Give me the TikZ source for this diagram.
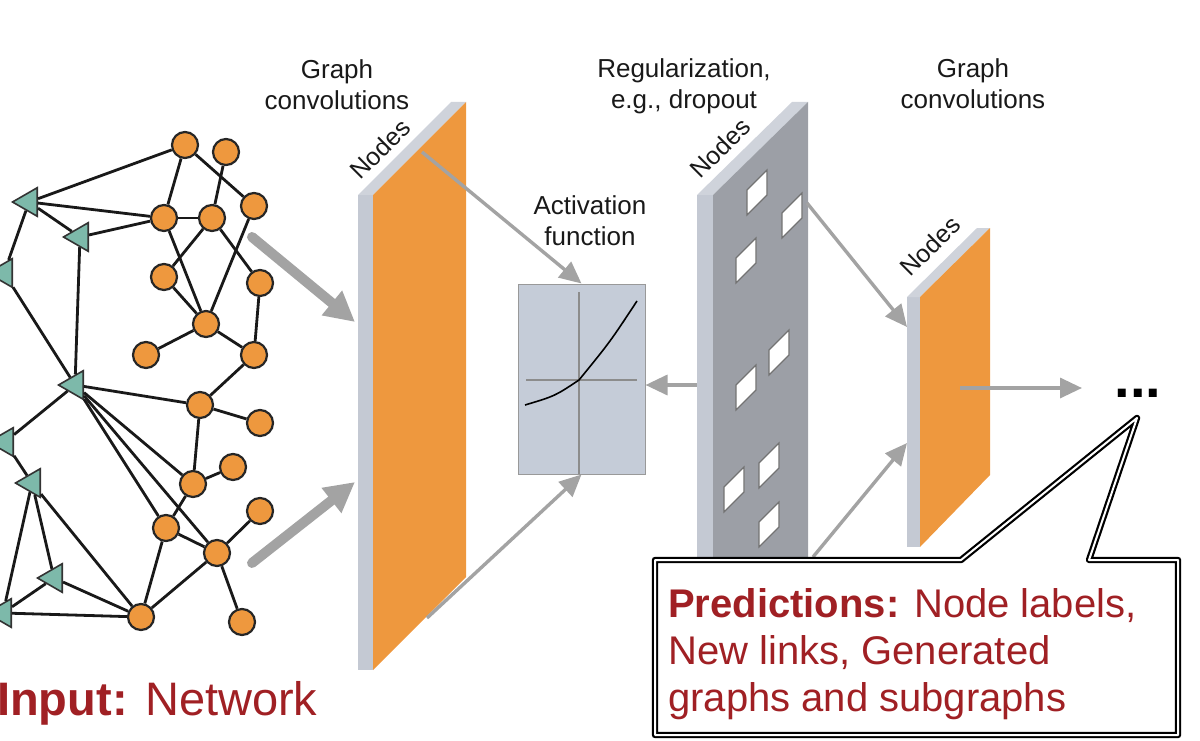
\documentclass[tikz,border=0pt]{standalone}
\usepackage{fontspec}
\setmainfont{Liberation Sans}
\usetikzlibrary{arrows.meta,shapes.geometric}

\definecolor{netorange}{RGB}{238,152,62}
\definecolor{netteal}{RGB}{125,185,170}
\definecolor{slabside}{RGB}{196,201,211}
\definecolor{slabtop}{RGB}{207,211,219}
\definecolor{slabgray}{RGB}{156,159,166}
\definecolor{arrowgray}{RGB}{163,163,163}
\definecolor{darkred}{RGB}{160,32,36}
\definecolor{actfill}{RGB}{197,204,216}

\tikzset{
  vert/.style={circle, draw=black!85, line width=2.2pt, fill=netorange, minimum size=26pt, inner sep=0pt},
  hub/.style={regular polygon, regular polygon sides=3, shape border rotate=90, draw=black!80, line width=1.6pt, fill=netteal, minimum size=33pt, inner sep=0pt},
  link/.style={line width=2.8pt, black!90},
  fatarrow/.style={line width=10pt, arrowgray, line cap=round, -{Triangle[length=30pt,width=30pt]}},
  thinarrow/.style={line width=3.4pt, arrowgray, -{Triangle[length=22pt,width=20pt]}},
  caption/.style={font=\fontsize{26}{31}\selectfont, align=center, anchor=north, inner sep=0pt, text=black!90},
  slabtag/.style={font=\fontsize{25}{29}\selectfont, rotate=45, inner sep=0pt, text=black!90},
  gap/.style={fill=white, draw=black!55, line width=1.2pt},
  actbox/.style={rectangle, fill=actfill, draw=black!40, line width=1pt, minimum width=127pt, minimum height=190pt, inner sep=0pt},
}

\begin{document}
\begin{tikzpicture}[x=1pt, y=-1pt]
			\useasboundingbox (0,0) rectangle (1200,741);
			
			% Network: orange vertices
			\node[vert] (O1) at (185,145) {};
			\node[vert] (O2) at (226,152) {};
			\node[vert] (O3) at (254,206) {};
			\node[vert] (O4) at (164,218) {};
			\node[vert] (O5) at (212,218) {};
			\node[vert] (O6) at (164,277) {};
			\node[vert] (O7) at (260,283) {};
			\node[vert] (O8) at (206,324) {};
			\node[vert] (O9) at (146,355) {};
			\node[vert] (O10) at (254,355) {};
			\node[vert] (O11) at (200,405) {};
			\node[vert] (O12) at (260,423) {};
			\node[vert] (O13) at (233,467) {};
			\node[vert] (O14) at (193,484) {};
			\node[vert] (O15) at (260,511) {};
			\node[vert] (O16) at (166,528) {};
			\node[vert] (O17) at (217,553) {};
			\node[vert] (O18) at (141,617) {};
			\node[vert] (O19) at (242,622) {};
			
			% Network: teal triangles
			\node[hub] (T1) at (29,202) {};
			\node[hub] (T2) at (80,237) {};
			\node[hub] (T3) at (4,273) {};
			\node[hub] (T4) at (75,385) {};
			\node[hub] (T5) at (5,442) {};
			\node[hub] (T6) at (32,483) {};
			\node[hub] (T7) at (54,578) {};
			\node[hub] (T8) at (3,613) {};
			
			% Edges of the network
			\draw[link] (O1) -- (T1);
			\draw[link] (O1) -- (O4);
			\draw[link] (O1) -- (O3);
			\draw[link] (O2) -- (O5);
			\draw[link] (O4) -- (T1);
			\draw[link] (O4) -- (T2);
			\draw[link] (O4) -- (O5);
			\draw[link] (O4) -- (O8);
			\draw[link] (O5) -- (O6);
			\draw[link] (O5) -- (O7);
			\draw[link] (O3) -- (O8);
			\draw[link] (O6) -- (O8);
			\draw[link] (O7) -- (O10);
			\draw[link] (O8) -- (O9);
			\draw[link] (O8) -- (O10);
			\draw[link] (O10) -- (O11);
			\draw[link] (T1) -- (T2);
			\draw[link] (T1) -- (T3);
			\draw[link] (T2) -- (T4);
			\draw[link] (T3) -- (T4);
			\draw[link] (T4) -- (O11);
			\draw[link] (T4) -- (O14);
			\draw[link] (T4) -- (O16);
			\draw[link] (T4) -- (O17);
			\draw[link] (T4) -- (T5);
			\draw[link] (O11) -- (O12);
			\draw[link] (O11) -- (O14);
			\draw[link] (O14) -- (O13);
			\draw[link] (O14) -- (O16);
			\draw[link] (O16) -- (O17);
			\draw[link] (O16) -- (O18);
			\draw[link] (O17) -- (O15);
			\draw[link] (O17) -- (O19);
			\draw[link] (O17) -- (O18);
			\draw[link] (T5) -- (T6);
			\draw[link] (T6) -- (T8);
			\draw[link] (T6) -- (T7);
			\draw[link] (T6) -- (O18);
			\draw[link] (T7) -- (O18);
			\draw[link] (T7) -- (T8);
			\draw[link] (T8) -- (O18);
			
			% Arrow ends
			\coordinate (G1) at (252,237);
			\coordinate (G2) at (252,563);
			\coordinate (S1inA) at (355,322);
			\coordinate (S1inB) at (355,482);
			\coordinate (S1top) at (422,152);
			\coordinate (S1bot) at (427,618);
			\coordinate (S2out) at (698,385);
			\coordinate (S2top) at (807,203);
			\coordinate (S2bot) at (813,557);
			\coordinate (S3inA) at (907,327);
			\coordinate (S3inB) at (907,443);
			\coordinate (S3out) at (960,388);
			\coordinate (S3end) at (1082,388);
			
			\draw[fatarrow] (G1) -- (S1inA);
			\draw[fatarrow] (G2) -- (S1inB);
			
			% First graph convolution slab
			\fill[slabside] (358,195) rectangle (373,670);
			\fill[slabtop] (358,195) -- (451,102) -- (466,102) -- (373,195) -- cycle;
			\fill[netorange] (373,195) -- (466,102) -- (466,577) -- (373,670) -- cycle;
			
			% Activation function
			\node[actbox] (act) at (581.5,379) {};
			\draw[black!45, line width=1.2pt] (579,292) -- (579,474);
			\draw[black!45, line width=1.2pt] (526,380) -- (637,380);
			\draw[black, line width=1.6pt] (525,405) .. controls (555,396) .. (579,380) .. controls (610,342) .. (637,301);
			
			\draw[thinarrow] (S1top) -- (act.north);
			\draw[thinarrow] (S1bot) -- (act.south);
			\draw[thinarrow] (S2out) -- (S2out -| act.east);
			
			% Dropout slab
			\fill[slabside] (697,195) rectangle (713,670);
			\fill[slabtop] (697,195) -- (792,102) -- (808,102) -- (713,195) -- cycle;
			\fill[slabgray] (713,195) -- (808,102) -- (808,577) -- (713,670) -- cycle;
			\filldraw[gap] (747,215) -- ++(20,-20) -- ++(0,-25) -- ++(-20,20) -- cycle;
			\filldraw[gap] (782,238) -- ++(20,-20) -- ++(0,-25) -- ++(-20,20) -- cycle;
			\filldraw[gap] (736,283) -- ++(20,-20) -- ++(0,-25) -- ++(-20,20) -- cycle;
			\filldraw[gap] (769,375) -- ++(20,-20) -- ++(0,-25) -- ++(-20,20) -- cycle;
			\filldraw[gap] (736,410) -- ++(20,-20) -- ++(0,-25) -- ++(-20,20) -- cycle;
			\filldraw[gap] (724,512) -- ++(20,-20) -- ++(0,-25) -- ++(-20,20) -- cycle;
			\filldraw[gap] (759,488) -- ++(20,-20) -- ++(0,-25) -- ++(-20,20) -- cycle;
			\filldraw[gap] (759,547) -- ++(20,-20) -- ++(0,-25) -- ++(-20,20) -- cycle;
			
			% Second graph convolution slab
			\fill[slabside] (907,297) rectangle (920,547);
			\fill[slabtop] (907,297) -- (977,228) -- (990,228) -- (920,297) -- cycle;
			\fill[netorange] (920,297) -- (990,228) -- (990,475) -- (920,547) -- cycle;
			
			\draw[thinarrow] (S2top) -- (S3inA);
			\draw[thinarrow] (S2bot) -- (S3inB);
			\draw[thinarrow] (S3out) -- (S3end);
			
			\node[font=\fontsize{56}{60}\selectfont\bfseries, anchor=base, inner sep=0pt] (dots) at (1138,397) {...};
			
			% Labels
			\node[caption] (gc1) at (337,59) {Graph\\convolutions};
			\node[caption] (reg) at (684,58) {Regularization,\\e.g., dropout};
			\node[caption] (actlab) at (590,195) {Activation\\function};
			\node[caption] (gc2) at (973,58) {Graph\\convolutions};
			
			\node[slabtag] (tag1) at (380,149) {Nodes};
			\node[slabtag] (tag2) at (720,148) {Nodes};
			\node[slabtag] (tag3) at (930,246) {Nodes};
			
			% Callout
			\filldraw[fill=white, draw=black, double=white, double distance=2pt, line width=2.2pt, line join=round] (655,560) -- (961,560) -- (1137,418) -- (1089,560) -- (1178,560) -- (1178,735) -- (655,735) -- cycle;
			\node[anchor=north west, inner sep=0pt, align=left, font=\fontsize{40}{47}\selectfont, text=darkred] (pred) at (668,588) {\textbf{Predictions:} Node labels,\\New links, Generated\\graphs and subgraphs};
			
			\node[anchor=base west, inner sep=0pt, font=\fontsize{47}{56}\selectfont, text=darkred] (inp) at (-3,715) {\textbf{Input:} Network};
		\end{tikzpicture}
\end{document}
